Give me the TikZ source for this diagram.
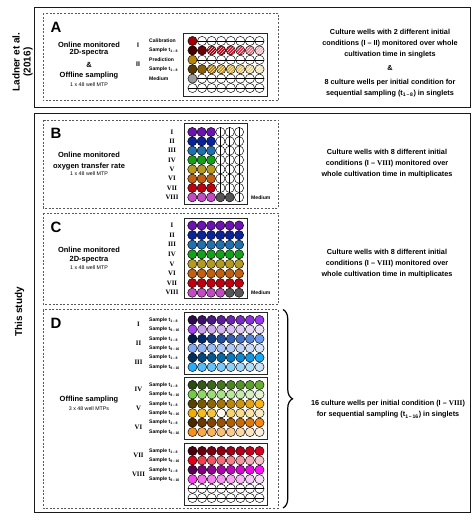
\documentclass[tikz,border=0pt]{standalone}
\usepackage{fontspec}
\setmainfont{Liberation Sans}
\newfontfamily\rmn{Liberation Serif}
\usetikzlibrary{patterns,decorations.pathreplacing}
% B/C colours
\definecolor{cI}{HTML}{6C12B0}
\definecolor{cII}{HTML}{0A229A}
\definecolor{cIII}{HTML}{2070B0}
\definecolor{cIV}{HTML}{14A018}
\definecolor{cV}{HTML}{B49A22}
\definecolor{cVI}{HTML}{C26012}
\definecolor{cVII}{HTML}{BE0010}
\definecolor{cVIII}{HTML}{C24AC2}
\definecolor{cMed}{HTML}{555555}
% A colours
\definecolor{aR1}{HTML}{A00008}
\definecolor{aY1}{HTML}{B8860B}
\definecolor{aG}{HTML}{9A9A9A}
\definecolor{aa0}{HTML}{4A0000}\definecolor{aa1}{HTML}{700008}
\definecolor{aa2}{HTML}{A00010}\definecolor{aa3}{HTML}{C00018}
\definecolor{aa4}{HTML}{D01028}\definecolor{aa5}{HTML}{D83048}
\definecolor{aa6}{HTML}{E07888}\definecolor{aa7}{HTML}{F0B8C0}
\definecolor{ab0}{HTML}{5A3A00}\definecolor{ab1}{HTML}{8A6008}
\definecolor{ab2}{HTML}{B08010}\definecolor{ab3}{HTML}{C89A20}
\definecolor{ab4}{HTML}{D8B040}\definecolor{ab5}{HTML}{E2C462}
\definecolor{ab6}{HTML}{EAD488}\definecolor{ab7}{HTML}{F2E4B8}
% D colours
\definecolor{d1a0}{HTML}{2B0B4B}\definecolor{d1aA}{HTML}{3D0F6F}\definecolor{d1aB}{HTML}{9A38F0}
\definecolor{d1b0}{HTML}{A040F0}\definecolor{d1bA}{HTML}{C8A0EA}\definecolor{d1bB}{HTML}{EBE2F8}
\definecolor{d2a0}{HTML}{001A4A}\definecolor{d2aA}{HTML}{002A70}\definecolor{d2aB}{HTML}{6A98F4}
\definecolor{d2b0}{HTML}{80A8F0}\definecolor{d2bA}{HTML}{90B4F2}\definecolor{d2bB}{HTML}{D8E6FA}
\definecolor{d3a0}{HTML}{00305A}\definecolor{d3aA}{HTML}{004A80}\definecolor{d3aB}{HTML}{18A8F8}
\definecolor{d3b0}{HTML}{28ACFA}\definecolor{d3bA}{HTML}{50BCFA}\definecolor{d3bB}{HTML}{C8E4F8}
\definecolor{d4a0}{HTML}{2A4A12}\definecolor{d4aA}{HTML}{345A18}\definecolor{d4aB}{HTML}{66B030}
\definecolor{d4b0}{HTML}{70CC40}\definecolor{d4bA}{HTML}{90D860}\definecolor{d4bB}{HTML}{E2F4D4}
\definecolor{d5a0}{HTML}{5A4000}\definecolor{d5aA}{HTML}{7A5800}\definecolor{d5aB}{HTML}{FAB418}
\definecolor{d5b0}{HTML}{EEAE00}\definecolor{d5bA}{HTML}{F2BC20}\definecolor{d5bB}{HTML}{FCECC4}
\definecolor{d6a0}{HTML}{4A2800}\definecolor{d6aA}{HTML}{6A3800}\definecolor{d6aB}{HTML}{F8860E}
\definecolor{d6b0}{HTML}{F59020}\definecolor{d6bA}{HTML}{F8A848}\definecolor{d6bB}{HTML}{FFF0DA}
\definecolor{d7a0}{HTML}{4A0010}\definecolor{d7aA}{HTML}{680010}\definecolor{d7aB}{HTML}{D80020}
\definecolor{d7b0}{HTML}{E00018}\definecolor{d7bA}{HTML}{F04050}\definecolor{d7bB}{HTML}{F6C4CC}
\definecolor{d8a0}{HTML}{5A0050}\definecolor{d8aA}{HTML}{800080}\definecolor{d8aB}{HTML}{FF10F8}
\definecolor{d8b0}{HTML}{F840F0}\definecolor{d8bA}{HTML}{F870F0}\definecolor{d8bB}{HTML}{F8DCF8}
\definecolor{dwhite}{HTML}{FFFAF0}

\newcommand\wellone[3]{\filldraw[well,fill=#3] (#1,#2) circle[radius=4.6];}
\newcommand\wellgrad[4]{%
  \filldraw[well,fill=#2] (192.5,#1) circle[radius=4.6];
  \foreach \i in {1,...,7}{\pgfmathtruncatemacro\pp{(\i-1)*100/6}
    \filldraw[well,fill=#4!\pp!#3] ({192.5+\i*9.57},#1) circle[radius=4.6];}}
\newcommand\wellwhite[2]{% y, first col index
  \foreach \i in {#2,...,7}{\filldraw[well,fill=white] ({192.5+\i*9.57},#1) circle[radius=4.6];}
  \draw[well] ({192.5+#2*9.57-4.6},#1) -- ({192.5+7*9.57+4.6},#1);}

\begin{document}
\begin{tikzpicture}[x=1bp,y=-1bp,
  outerbox/.style={draw=black!90,line width=1.4bp},
  dashbox/.style={draw=black!65,line width=0.8bp,dash pattern=on 2bp off 1.6bp},
  plate/.style={draw=black!85,line width=0.9bp,fill=white},
  well/.style={draw=black,line width=0.45bp},
  letter/.style={font=\fontsize{15}{15}\selectfont\bfseries,inner sep=0},
  ttl/.style={font=\fontsize{7.5}{9}\selectfont\bfseries,inner sep=0,align=center},
  subt/.style={font=\fontsize{5.3}{6}\selectfont,inner sep=0},
  desc/.style={font=\fontsize{7.3}{11}\selectfont\bfseries,inner sep=0,align=center},
  lbl/.style={font=\fontsize{5.1}{6}\selectfont\bfseries,inner sep=0,anchor=west},
  roman/.style={font=\rmn\fontsize{6.8}{7}\selectfont\bfseries,inner sep=0},
  romsans/.style={font=\fontsize{6.8}{7}\selectfont\bfseries,inner sep=0},
  side/.style={font=\fontsize{10}{11}\selectfont\bfseries,inner sep=0,align=center,rotate=90}]
\useasboundingbox (0,0) rectangle (474,520);
\fill[white] (0,0) rectangle (474,520);

% outer boxes
\draw[outerbox] (34.3,7.3) rectangle (470.5,107.3);
\draw[outerbox] (34.3,113.3) rectangle (470.5,512.3);
\node[side] (ladner) at (22.5,62) {Ladner et al.\\(2016)};
\node[side] (study) at (19.5,312) {This study};

% dashed boxes
\draw[dashbox] (43,13.3) rectangle (278.5,100.7);
\draw[dashbox] (43,120) rectangle (278.5,208);
\draw[dashbox] (43,213) rectangle (278.5,304.3);
\draw[dashbox] (43,309.5) rectangle (278.5,508);

% ================= A =================
\node[letter] (lA) at (56,27) {A};
\node[ttl] (tA1) at (89,44.5) {Online monitored};
\node[ttl] (tA2) at (89,53) {2D-spectra};
\node[ttl] (tA3) at (89,65) {\&};
\node[ttl] (tA4) at (89,75.7) {Offline sampling};
\node[subt] (tA5) at (89,84.3) {1 x 48 well MTP};
\node[romsans] (rAI) at (138,45.5) {I};
\node[romsans] (rAII) at (138,64.5) {II};
\node[lbl] (aL1) at (149,41) {Calibration};
\node[lbl] (aL2) at (149,50.4) {Sample t\textsubscript{1\,–\,8}};
\node[lbl] (aL3) at (149,59.8) {Prediction};
\node[lbl] (aL4) at (149,69.2) {Sample t\textsubscript{1\,–\,8}};
\node[lbl] (aL5) at (149,78.6) {Medium};
\draw[plate] (183.5,33.5) rectangle (267,96);
\wellone{192.5}{41}{aR1}\wellwhite{41}{1}
\foreach \c [count=\i from 0] in {aa0,aa1,aa2,aa3,aa4,aa5,aa6,aa7}{
  \fill[\c] ({192.5+\i*9.57},50.4) circle[radius=4.6];
  \ifnum\i>1 \fill[pattern=north east lines,pattern color=white] ({192.5+\i*9.57},50.4) circle[radius=4.6];\fi
  \draw[well] ({192.5+\i*9.57},50.4) circle[radius=4.6];}
\wellone{192.5}{59.8}{aY1}\wellwhite{59.8}{1}
\foreach \c [count=\i from 0] in {ab0,ab1,ab2,ab3,ab4,ab5,ab6,ab7}{
  \fill[\c] ({192.5+\i*9.57},69.2) circle[radius=4.6];
  \ifnum\i>1 \fill[pattern=north east lines,pattern color=white] ({192.5+\i*9.57},69.2) circle[radius=4.6];\fi
  \draw[well] ({192.5+\i*9.57},69.2) circle[radius=4.6];}
\wellone{192.5}{78.6}{aG}\wellwhite{78.6}{1}
\wellwhite{88}{0}
\node[desc] (dA1) at (390,43.3) {Culture wells with 2 different initial\\conditions (I -- II) monitored over whole\\cultivation time in singlets};
\node[desc] (dA2) at (390,68.3) {\&};
\node[desc] (dA3) at (390,88) {8 culture wells per initial condition for\\sequential sampling (t\textsubscript{1\,–\,8}) in singlets};

% ================= B =================
\node[letter] (lB) at (56,133) {B};
\node[ttl] (tB1) at (89,154.7) {Online monitored};
\node[ttl] (tB2) at (89,166.3) {oxygen transfer rate};
\node[subt] (tB3) at (89,173.6) {1 x 48 well MTP};
\draw[plate] (184,123) rectangle (247,204);
\foreach \c [count=\r from 0] in {cI,cII,cIII,cIV,cV,cVI,cVII,cVIII}{
  \foreach \k in {0,1,2}{\filldraw[well,fill=\c] ({192.3+\k*9.35},{132+\r*9.33}) circle[radius=4.6];}}
\foreach \r in {0,...,6}{\foreach \k in {3,4,5}{\filldraw[well,fill=white] ({192.3+\k*9.35},{132+\r*9.33}) circle[radius=4.6];}}
\filldraw[well,fill=cMed] ({192.3+3*9.35},{132+7*9.33}) circle[radius=4.6];
\filldraw[well,fill=cMed] ({192.3+4*9.35},{132+7*9.33}) circle[radius=4.6];
\filldraw[well,fill=white] ({192.3+5*9.35},{132+7*9.33}) circle[radius=4.6];
\foreach \k in {3,4}{\draw[well] ({192.3+\k*9.35},127.4) -- ({192.3+\k*9.35},{132+6*9.33+4.6});}
\draw[well] ({192.3+5*9.35},127.4) -- ({192.3+5*9.35},{132+7*9.33+4.6});
\foreach \t [count=\r from 0] in {I,II,III,IV,V,VI,VII,VIII}{\node[roman] (rB\r) at (172,{132+\r*9.33}) {\t};}
\node[lbl] (medB) at (251,{132+7*9.33}) {Medium};
\node[desc] (dB) at (387,164) {Culture wells with 8 different initial\\conditions (I -- {\rmn VIII}) monitored over\\whole cultivation time in multiplicates};

% ================= C =================
\node[letter] (lC) at (56,227.5) {C};
\node[ttl] (tC1) at (89,250) {Online monitored};
\node[ttl] (tC2) at (89,259.7) {2D-spectra};
\node[subt] (tC3) at (89,268) {1 x 48 well MTP};
\draw[plate] (184,218) rectangle (247,298.5);
\foreach \c [count=\r from 0] in {cI,cII,cIII,cIV,cV,cVI,cVII}{
  \foreach \k in {0,...,5}{\filldraw[well,fill=\c] ({192.3+\k*9.35},{225.5+\r*9.6}) circle[radius=4.6];}}
\foreach \k in {0,...,3}{\filldraw[well,fill=cVIII] ({192.3+\k*9.35},{225.5+7*9.6}) circle[radius=4.6];}
\foreach \k in {4,5}{\filldraw[well,fill=cMed] ({192.3+\k*9.35},{225.5+7*9.6}) circle[radius=4.6];}
\foreach \t [count=\r from 0] in {I,II,III,IV,V,VI,VII,VIII}{\node[roman] (rC\r) at (172,{225.5+\r*9.6}) {\t};}
\node[lbl] (medC) at (251,{225.5+7*9.6}) {Medium};
\node[desc] (dC) at (387,264) {Culture wells with 8 different initial\\conditions (I -- {\rmn VIII}) monitored over\\whole cultivation time in multiplicates};

% ================= D =================
\node[letter] (lD) at (56,323.5) {D};
\node[ttl] (tD1) at (89,399.7) {Offline sampling};
\node[subt] (tD2) at (89,408.5) {3 x 48 well MTPs};
\draw[plate] (184,312.5) rectangle (267,374.5);
\draw[plate] (184,377.5) rectangle (267,439.5);
\draw[plate] (184,443.5) rectangle (267,505.5);
\wellgrad{320}{d1a0}{d1aA}{d1aB}
\wellgrad{329.4}{d1b0}{d1bA}{d1bB}
\wellgrad{338.8}{d2a0}{d2aA}{d2aB}
\wellgrad{348.2}{d2b0}{d2bA}{d2bB}
\wellgrad{357.6}{d3a0}{d3aA}{d3aB}
\wellgrad{367}{d3b0}{d3bA}{d3bB}
\wellgrad{385}{d4a0}{d4aA}{d4aB}
\wellgrad{394.4}{d4b0}{d4bA}{d4bB}
\wellgrad{403.8}{d5a0}{d5aA}{d5aB}
\wellgrad{413.2}{d5b0}{d5bA}{d5bB}
\wellone{{192.5+3*9.57}}{413.2}{dwhite}
\wellgrad{422.6}{d6a0}{d6aA}{d6aB}
\wellgrad{432}{d6b0}{d6bA}{d6bB}
\wellgrad{451}{d7a0}{d7aA}{d7aB}
\wellgrad{460.4}{d7b0}{d7bA}{d7bB}
\wellgrad{469.8}{d8a0}{d8aA}{d8aB}
\wellgrad{479.2}{d8b0}{d8bA}{d8bB}
\wellwhite{488.6}{0}
\wellwhite{498}{0}
\foreach \t/\y [count=\n] in {I/320,II/338.8,III/357.6,IV/385,V/403.8,VI/422.6,VII/451,VIII/469.8}{
  \node[roman] (rD\n) at (138.5,{\y+4.7}) {\t};
  \node[lbl] (sDa\n) at (149,\y) {Sample t\textsubscript{1\,–\,8}};
  \node[lbl] (sDb\n) at (149,{\y+9.4}) {Sample t\textsubscript{9\,–\,16}};}
\coordinate (bt) at (283,309.5);
\coordinate (bb) at (283,508);
\draw[decorate,decoration={brace,amplitude=9.5bp,aspect=0.45},line width=1.2bp] (bt) -- (bb);
\node[desc] (dD) at (388,409.6) {16 culture wells per initial condition (I -- {\rmn VIII})\\for sequential sampling (t\textsubscript{1\,–\,16}) in singlets};
\end{tikzpicture}
\end{document}
